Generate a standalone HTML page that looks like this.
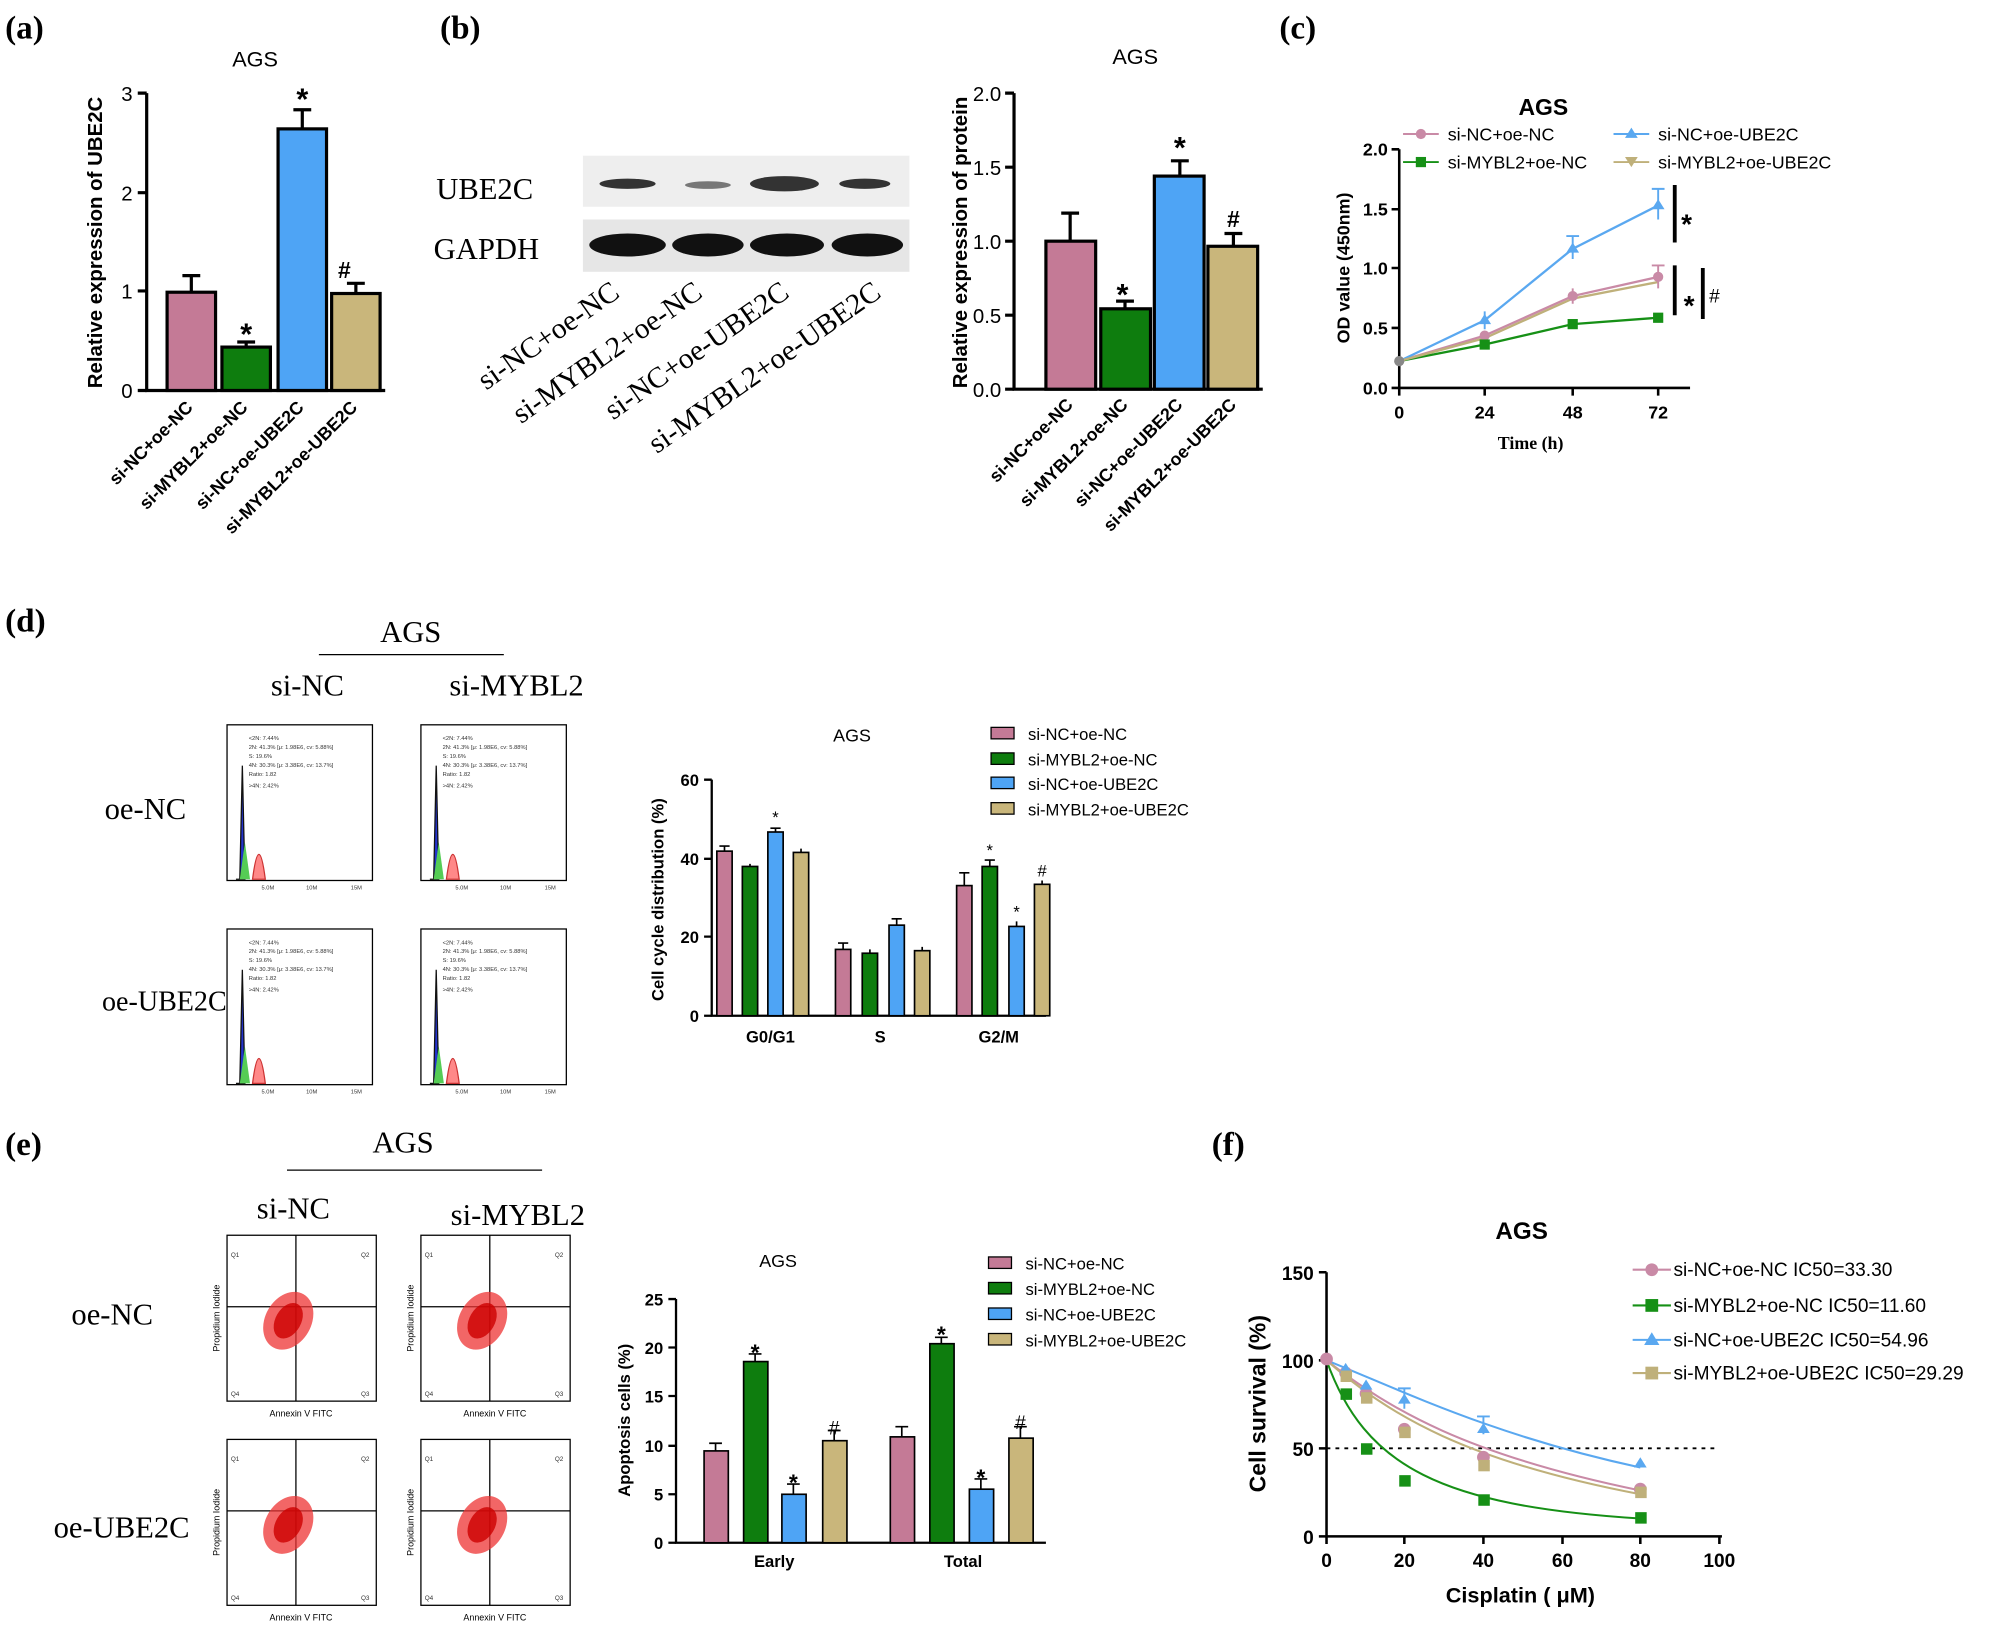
<!DOCTYPE html>
<html><head><meta charset="utf-8"><style>html,body{margin:0;padding:0;background:#fff}svg{display:block}</style></head><body>
<svg width="2000" height="1627" viewBox="0 0 1568 1275" preserveAspectRatio="none" xmlns="http://www.w3.org/2000/svg" font-family="Liberation Sans, sans-serif">
<rect width="1568" height="1275" fill="#fff"/>
<g font-family="Liberation Serif, serif" font-weight="bold" font-size="26">
<text x="4" y="30">(a)</text><text x="345" y="30">(b)</text><text x="1003" y="30">(c)</text>
<text x="4" y="495">(d)</text><text x="4" y="905">(e)</text><text x="950" y="905">(f)</text></g>

<!-- (a) -->
<text x="200" y="52" font-size="17" text-anchor="middle">AGS</text>
<g stroke="#000" stroke-width="2.5" fill="none"><path d="M115 73V306H302"/><path d="M108 73H115M108 151H115M108 228H115M108 306H115"/></g>
<g font-size="16" text-anchor="end"><text x="104" y="79">3</text><text x="104" y="157">2</text><text x="104" y="234">1</text><text x="104" y="312">0</text></g>
<text transform="translate(80,190) rotate(-90)" font-size="16" font-weight="bold" text-anchor="middle">Relative expression of UBE2C</text>
<g stroke="#000" stroke-width="2.5">
<rect x="131" y="229" width="38" height="77" fill="#c47a96"/><rect x="174" y="272" width="38" height="34" fill="#0e7d0e"/>
<rect x="218" y="101" width="38" height="205" fill="#4ea4f5"/><rect x="260" y="230" width="38" height="76" fill="#c9b67b"/>
<path d="M150 229V216M143 216H157M193 272V268M186 268H200M237 101V86M230 86H244M279 230V222M272 222H286" fill="none"/></g>
<g font-size="24" font-weight="bold" text-anchor="middle"><text x="193" y="270">*</text><text x="237" y="86">*</text><text x="270" y="218" font-size="18">#</text></g>
<g font-size="14" font-weight="bold" text-anchor="end">
<text transform="translate(152,320) rotate(-45)">si-NC+oe-NC</text><text transform="translate(195,320) rotate(-45)">si-MYBL2+oe-NC</text>
<text transform="translate(239,320) rotate(-45)">si-NC+oe-UBE2C</text><text transform="translate(281,320) rotate(-45)">si-MYBL2+oe-UBE2C</text></g>

<!-- (b) blot -->
<rect x="457" y="122" width="256" height="40" fill="#eee"/><rect x="457" y="172" width="256" height="41" fill="#e6e6e6"/>
<g fill="#333"><ellipse cx="492" cy="144" rx="22" ry="4"/><ellipse cx="555" cy="145" rx="18" ry="3" fill="#777"/><ellipse cx="615" cy="144" rx="27" ry="6"/><ellipse cx="678" cy="144" rx="20" ry="4"/>
<ellipse cx="492" cy="192" rx="30" ry="9" fill="#111"/><ellipse cx="555" cy="192" rx="28" ry="9" fill="#111"/><ellipse cx="617" cy="192" rx="29" ry="9" fill="#111"/><ellipse cx="680" cy="192" rx="28" ry="9" fill="#111"/></g>
<g font-family="Liberation Serif, serif" font-size="24"><text x="342" y="156">UBE2C</text><text x="340" y="203">GAPDH</text></g>
<g font-family="Liberation Serif, serif" font-size="23" text-anchor="end">
<text transform="translate(487,232) rotate(-35)">si-NC+oe-NC</text><text transform="translate(552,232) rotate(-35)">si-MYBL2+oe-NC</text>
<text transform="translate(620,232) rotate(-35)">si-NC+oe-UBE2C</text><text transform="translate(692,232) rotate(-35)">si-MYBL2+oe-UBE2C</text></g>
<!-- (b) bars -->
<text x="890" y="50" font-size="17" text-anchor="middle">AGS</text>
<g stroke="#000" stroke-width="2.5" fill="none"><path d="M795 73V305H990"/><path d="M788 73H795M788 131H795M788 189H795M788 247H795M788 305H795"/></g>
<g font-size="16" text-anchor="end"><text x="785" y="79">2.0</text><text x="785" y="137">1.5</text><text x="785" y="195">1.0</text><text x="785" y="253">0.5</text><text x="785" y="311">0.0</text></g>
<text transform="translate(758,190) rotate(-90)" font-size="16" font-weight="bold" text-anchor="middle">Relative expression of protein</text>
<g stroke="#000" stroke-width="2.5">
<rect x="820" y="189" width="39" height="116" fill="#c47a96"/><rect x="863" y="242" width="39" height="63" fill="#0e7d0e"/>
<rect x="905" y="138" width="39" height="167" fill="#4ea4f5"/><rect x="947" y="193" width="39" height="112" fill="#c9b67b"/>
<path d="M839 189V167M832 167H846M882 242V236M875 236H889M925 138V126M918 126H932M967 193V183M960 183H974" fill="none"/></g>
<g font-size="24" font-weight="bold" text-anchor="middle"><text x="880" y="239">*</text><text x="925" y="124">*</text><text x="967" y="178" font-size="18">#</text></g>
<g font-size="14" font-weight="bold" text-anchor="end">
<text transform="translate(842,318) rotate(-45)">si-NC+oe-NC</text><text transform="translate(885,318) rotate(-45)">si-MYBL2+oe-NC</text>
<text transform="translate(928,318) rotate(-45)">si-NC+oe-UBE2C</text><text transform="translate(970,318) rotate(-45)">si-MYBL2+oe-UBE2C</text></g>

<!-- (c) -->
<text x="1210" y="90" font-size="18" font-weight="bold" text-anchor="middle">AGS</text>
<g font-size="14"><text x="1135" y="110">si-NC+oe-NC</text><text x="1300" y="110">si-NC+oe-UBE2C</text><text x="1135" y="132">si-MYBL2+oe-NC</text><text x="1300" y="132">si-MYBL2+oe-UBE2C</text></g>
<g stroke-width="1.5"><path d="M1100 105H1128" stroke="#c98aa6"/><circle cx="1114" cy="105" r="4" fill="#c98aa6"/>
<path d="M1265 105H1293" stroke="#5aa8f0"/><path d="M1279 100l5 8h-10z" fill="#5aa8f0"/>
<path d="M1100 127H1128" stroke="#169016"/><rect x="1110" y="123" width="8" height="8" fill="#169016"/>
<path d="M1265 127H1293" stroke="#bfb07a"/><path d="M1279 131l5 -8h-10z" fill="#bfb07a"/></g>
<g stroke="#000" stroke-width="2" fill="none"><path d="M1097 117V304H1325"/><path d="M1091 117H1097M1091 164H1097M1091 210H1097M1091 257H1097M1091 304H1097M1097 304V310M1164 304V310M1233 304V310M1300 304V310"/></g>
<g font-size="14" font-weight="bold" text-anchor="end"><text x="1088" y="122">2.0</text><text x="1088" y="169">1.5</text><text x="1088" y="215">1.0</text><text x="1088" y="262">0.5</text><text x="1088" y="309">0.0</text></g>
<g font-size="14" font-weight="bold" text-anchor="middle"><text x="1097" y="328">0</text><text x="1164" y="328">24</text><text x="1233" y="328">48</text><text x="1300" y="328">72</text>
<text x="1200" y="352" font-family="Liberation Serif, serif">Time (h)</text></g>
<text transform="translate(1058,210) rotate(-90)" font-size="14" font-weight="bold" text-anchor="middle">OD value (450nm)</text>
<g fill="none" stroke-width="1.8">
<polyline points="1097,283 1164,263 1233,232 1300,217" stroke="#c98aa6"/>
<polyline points="1097,283 1164,251 1233,195 1300,161" stroke="#5aa8f0"/>
<polyline points="1097,283 1164,270 1233,254 1300,249" stroke="#169016"/>
<polyline points="1097,283 1164,265 1233,234 1300,221" stroke="#bfb07a"/></g>
<g fill="#c98aa6"><circle cx="1164" cy="263" r="4"/><circle cx="1233" cy="232" r="4"/><circle cx="1300" cy="217" r="4"/></g>
<g fill="#5aa8f0"><path d="M1164 246l5 8h-10zM1233 190l5 8h-10zM1300 156l5 8h-10z"/></g>
<g fill="#169016"><rect x="1160" y="266" width="8" height="8"/><rect x="1229" y="250" width="8" height="8"/><rect x="1296" y="245" width="8" height="8"/></g>
<g stroke="#5aa8f0" stroke-width="1.5"><path d="M1300 148V172M1295 148H1305M1233 185V203M1228 185H1238M1164 244V258"/></g>
<g stroke="#c98aa6" stroke-width="1.5"><path d="M1300 208V226M1295 208H1305M1233 226V238"/></g>
<circle cx="1097" cy="283" r="4" fill="#888"/>
<g stroke="#000" stroke-width="3"><path d="M1313 145V190M1313 208V247M1335 210V250"/></g>
<g font-size="22" font-weight="bold"><text x="1318" y="183">*</text><text x="1320" y="247">*</text></g><text x="1340" y="237" font-size="15">#</text>

<!-- (d) -->
<g font-family="Liberation Serif, serif" font-size="24">
<text x="322" y="503" text-anchor="middle">AGS</text><text x="241" y="545" text-anchor="middle">si-NC</text><text x="405" y="545" text-anchor="middle">si-MYBL2</text>
<text x="82" y="642">oe-NC</text><text x="80" y="792" font-size="22">oe-UBE2C</text>
<text x="316" y="903" text-anchor="middle">AGS</text><text x="230" y="955" text-anchor="middle">si-NC</text><text x="406" y="960" text-anchor="middle">si-MYBL2</text>
<text x="56" y="1038">oe-NC</text><text x="42" y="1205">oe-UBE2C</text></g>
<path d="M250 513H395M225 917H425" stroke="#000" stroke-width="1"/>
<g id="hist">
<rect x="178" y="568" width="114" height="122" fill="none" stroke="#000" stroke-width="1"/>
<path d="M185 689 L188 689 L190 600 L192 689 Z" fill="#2233cc" stroke="#111"/>
<path d="M188 689 L192 660 L196 689Z" fill="#5c5"/>
<path d="M198 689 Q203 650 208 689Z" fill="#f88" stroke="#c33"/>
<g font-size="4.5" fill="#333"><text x="195" y="580">&lt;2N: 7.44%</text><text x="195" y="587">2N: 41.3% [μ: 1.98E6, cv: 5.88%]</text><text x="195" y="594">S: 19.6%</text><text x="195" y="601">4N: 30.3% [μ: 3.38E6, cv: 13.7%]</text><text x="195" y="608">Ratio: 1.82</text><text x="195" y="617">&gt;4N: 2.42%</text></g>
<g font-size="4.5" fill="#333"><text x="205" y="697">5.0M</text><text x="240" y="697">10M</text><text x="275" y="697">15M</text></g>
</g>
<use href="#hist" x="152" y="0"/><use href="#hist" x="0" y="160"/><use href="#hist" x="152" y="160"/>

<text x="668" y="581" font-size="14" text-anchor="middle">AGS</text>
<g stroke="#000" stroke-width="1.8" fill="none"><path d="M558 611V796H820"/><path d="M552 611H558M552 673H558M552 734H558M552 796H558"/></g>
<g font-size="13" font-weight="bold" text-anchor="end"><text x="548" y="616">60</text><text x="548" y="678">40</text><text x="548" y="739">20</text><text x="548" y="801">0</text></g>
<text transform="translate(520,705) rotate(-90)" font-size="13" font-weight="bold" text-anchor="middle">Cell cycle distribution (%)</text>
<g font-size="13" font-weight="bold" text-anchor="middle"><text x="604" y="817">G0/G1</text><text x="690" y="817">S</text><text x="783" y="817">G2/M</text></g>
<g stroke="#000" stroke-width="1.3">
<rect x="562" y="667" width="12" height="129" fill="#c47a96"/><rect x="582" y="679" width="12" height="117" fill="#0e7d0e"/><rect x="602" y="652" width="12" height="144" fill="#4ea4f5"/><rect x="622" y="668" width="12" height="128" fill="#c9b67b"/>
<rect x="655" y="744" width="12" height="52" fill="#c47a96"/><rect x="676" y="747" width="12" height="49" fill="#0e7d0e"/><rect x="697" y="725" width="12" height="71" fill="#4ea4f5"/><rect x="717" y="745" width="12" height="51" fill="#c9b67b"/>
<rect x="750" y="694" width="12" height="102" fill="#c47a96"/><rect x="770" y="679" width="12" height="117" fill="#0e7d0e"/><rect x="791" y="726" width="12" height="70" fill="#4ea4f5"/><rect x="811" y="693" width="12" height="103" fill="#c9b67b"/>
<path fill="none" d="M568 667V663M564 663H572M588 679V677M608 652V649M604 649H612M628 668V665M661 744V739M657 739H665M682 747V744M703 725V720M699 720H707M723 745V742M756 694V684M752 684H760M776 679V674M772 674H780M797 726V722M817 693V690"/></g>
<g font-size="13" text-anchor="middle"><text x="608" y="645">*</text><text x="776" y="671">*</text><text x="797" y="719">*</text><text x="817" y="687">#</text></g>
<g font-size="13"><rect x="777" y="570" width="18" height="9" fill="#c47a96" stroke="#000"/><text x="806" y="580">si-NC+oe-NC</text>
<rect x="777" y="590" width="18" height="9" fill="#0e7d0e" stroke="#000"/><text x="806" y="600">si-MYBL2+oe-NC</text>
<rect x="777" y="609" width="18" height="9" fill="#4ea4f5" stroke="#000"/><text x="806" y="619">si-NC+oe-UBE2C</text>
<rect x="777" y="629" width="18" height="9" fill="#c9b67b" stroke="#000"/><text x="806" y="639">si-MYBL2+oe-UBE2C</text></g>

<!-- (e) scatter -->
<g id="sc">
<rect x="178" y="968" width="117" height="130" fill="none" stroke="#000" stroke-width="1"/>
<path d="M232 968V1098M178 1024H295" stroke="#000" stroke-width="1"/>
<ellipse cx="226" cy="1035" rx="18" ry="24" fill="#e33" opacity="0.75" transform="rotate(30 226 1035)"/>
<ellipse cx="226" cy="1035" rx="10" ry="15" fill="#c00" opacity="0.8" transform="rotate(30 226 1035)"/>
<g font-size="5" fill="#333"><text x="181" y="985">Q1</text><text x="283" y="985">Q2</text><text x="181" y="1094">Q4</text><text x="283" y="1094">Q3</text></g>
<text x="236" y="1110" font-size="7" text-anchor="middle">Annexin V FITC</text>
<text transform="translate(172,1033) rotate(-90)" font-size="7" text-anchor="middle">Propidium Iodide</text>
</g>
<use href="#sc" x="152" y="0"/><use href="#sc" x="0" y="160"/><use href="#sc" x="152" y="160"/>

<text x="610" y="993" font-size="14" text-anchor="middle">AGS</text>
<g stroke="#000" stroke-width="1.8" fill="none"><path d="M530 1018V1209H820"/><path d="M524 1018H530M524 1056H530M524 1094H530M524 1133H530M524 1171H530M524 1209H530"/></g>
<g font-size="13" font-weight="bold" text-anchor="end"><text x="520" y="1023">25</text><text x="520" y="1061">20</text><text x="520" y="1099">15</text><text x="520" y="1138">10</text><text x="520" y="1176">5</text><text x="520" y="1214">0</text></g>
<text transform="translate(494,1113) rotate(-90)" font-size="13" font-weight="bold" text-anchor="middle">Apoptosis cells (%)</text>
<g font-size="13" font-weight="bold" text-anchor="middle"><text x="607" y="1228">Early</text><text x="755" y="1228">Total</text></g>
<g stroke="#000" stroke-width="1.3">
<rect x="552" y="1137" width="19" height="72" fill="#c47a96"/><rect x="583" y="1067" width="19" height="142" fill="#0e7d0e"/><rect x="613" y="1171" width="19" height="38" fill="#4ea4f5"/><rect x="645" y="1129" width="19" height="80" fill="#c9b67b"/>
<rect x="698" y="1126" width="19" height="83" fill="#c47a96"/><rect x="729" y="1053" width="19" height="156" fill="#0e7d0e"/><rect x="760" y="1167" width="19" height="42" fill="#4ea4f5"/><rect x="791" y="1127" width="19" height="82" fill="#c9b67b"/>
<path fill="none" d="M561 1137V1131M556 1131H566M592 1067V1061M587 1061H597M622 1171V1163M617 1163H627M654 1129V1121M649 1121H659M707 1126V1118M702 1118H712M738 1053V1048M733 1048H743M769 1167V1159M764 1159H774M800 1127V1118M795 1118H805"/></g>
<g font-size="18" font-weight="bold" text-anchor="middle"><text x="592" y="1066">*</text><text x="622" y="1168">*</text><text x="738" y="1052">*</text><text x="769" y="1164">*</text></g>
<g font-size="15" text-anchor="middle"><text x="654" y="1124">#</text><text x="800" y="1120">#</text></g>
<g font-size="13"><rect x="775" y="985" width="18" height="9" fill="#c47a96" stroke="#000"/><text x="804" y="995">si-NC+oe-NC</text>
<rect x="775" y="1005" width="18" height="9" fill="#0e7d0e" stroke="#000"/><text x="804" y="1015">si-MYBL2+oe-NC</text>
<rect x="775" y="1025" width="18" height="9" fill="#4ea4f5" stroke="#000"/><text x="804" y="1035">si-NC+oe-UBE2C</text>
<rect x="775" y="1045" width="18" height="9" fill="#c9b67b" stroke="#000"/><text x="804" y="1055">si-MYBL2+oe-UBE2C</text></g>

<!-- (f) -->
<text x="1193" y="971" font-size="19" font-weight="bold" text-anchor="middle">AGS</text>
<g stroke="#000" stroke-width="2" fill="none"><path d="M1040 997V1204H1350"/><path d="M1034 997H1040M1034 1066H1040M1034 1135H1040M1034 1204H1040"/>
<path d="M1040 1204V1210M1101 1204V1210M1163 1204V1210M1225 1204V1210M1286 1204V1210M1348 1204V1210"/></g>
<path d="M1040 1135H1345" stroke="#000" stroke-width="1.5" stroke-dasharray="3,4"/>
<g font-size="15" font-weight="bold" text-anchor="end"><text x="1030" y="1003">150</text><text x="1030" y="1072">100</text><text x="1030" y="1141">50</text><text x="1030" y="1210">0</text></g>
<g font-size="15" font-weight="bold" text-anchor="middle"><text x="1040" y="1228">0</text><text x="1101" y="1228">20</text><text x="1163" y="1228">40</text><text x="1225" y="1228">60</text><text x="1286" y="1228">80</text><text x="1348" y="1228">100</text>
<text x="1192" y="1256" font-size="17">Cisplatin ( μM)</text></g>
<text transform="translate(992,1100) rotate(-90)" font-size="18" font-weight="bold" text-anchor="middle">Cell survival  (%)</text>
<g fill="none" stroke-width="1.6">
<path d="M1040 1066 C1090 1105 1150 1140 1286 1168" stroke="#c98aa6"/>
<path d="M1040 1066 C1100 1090 1170 1125 1286 1150" stroke="#5aa8f0"/>
<path d="M1040 1066 C1070 1150 1130 1180 1286 1190" stroke="#169016"/>
<path d="M1040 1066 C1090 1110 1150 1145 1286 1171" stroke="#bfb07a"/></g>
<g fill="#c98aa6"><circle cx="1040" cy="1065" r="5"/><circle cx="1055" cy="1076" r="5"/><circle cx="1071" cy="1092" r="5"/><circle cx="1101" cy="1120" r="5"/><circle cx="1163" cy="1142" r="5"/><circle cx="1286" cy="1167" r="5"/></g>
<g fill="#5aa8f0"><path d="M1055 1068l5 8h-10zM1071 1081l5 8h-10zM1101 1092l5 8h-10zM1163 1115l5 8h-10zM1286 1142l5 8h-10z"/></g>
<g fill="#bfb07a"><rect x="1051" y="1074" width="9" height="9"/><rect x="1067" y="1091" width="9" height="9"/><rect x="1097" y="1118" width="9" height="9"/><rect x="1159" y="1144" width="9" height="9"/><rect x="1282" y="1165" width="9" height="9"/></g>
<g fill="#169016"><rect x="1051" y="1088" width="9" height="9"/><rect x="1067" y="1131" width="9" height="9"/><rect x="1097" y="1156" width="9" height="9"/><rect x="1159" y="1171" width="9" height="9"/><rect x="1282" y="1185" width="9" height="9"/></g>
<g stroke="#5aa8f0" stroke-width="1.5"><path d="M1101 1088V1104M1096 1088H1106M1163 1110V1124M1158 1110H1168"/></g>
<g font-size="15"><path d="M1280 995H1310" stroke="#c98aa6" stroke-width="1.6"/><circle cx="1295" cy="995" r="5" fill="#c98aa6"/><text x="1312" y="1000">si-NC+oe-NC IC50=33.30</text>
<path d="M1280 1023H1310" stroke="#169016" stroke-width="1.6"/><rect x="1290" y="1018" width="10" height="10" fill="#169016"/><text x="1312" y="1028">si-MYBL2+oe-NC IC50=11.60</text>
<path d="M1280 1050H1310" stroke="#5aa8f0" stroke-width="1.6"/><path d="M1295 1044l6 10h-12z" fill="#5aa8f0"/><text x="1312" y="1055">si-NC+oe-UBE2C IC50=54.96</text>
<path d="M1280 1076H1310" stroke="#bfb07a" stroke-width="1.6"/><rect x="1290" y="1071" width="10" height="10" fill="#bfb07a"/><text x="1312" y="1081">si-MYBL2+oe-UBE2C IC50=29.29</text></g>
</svg>
</body></html>
